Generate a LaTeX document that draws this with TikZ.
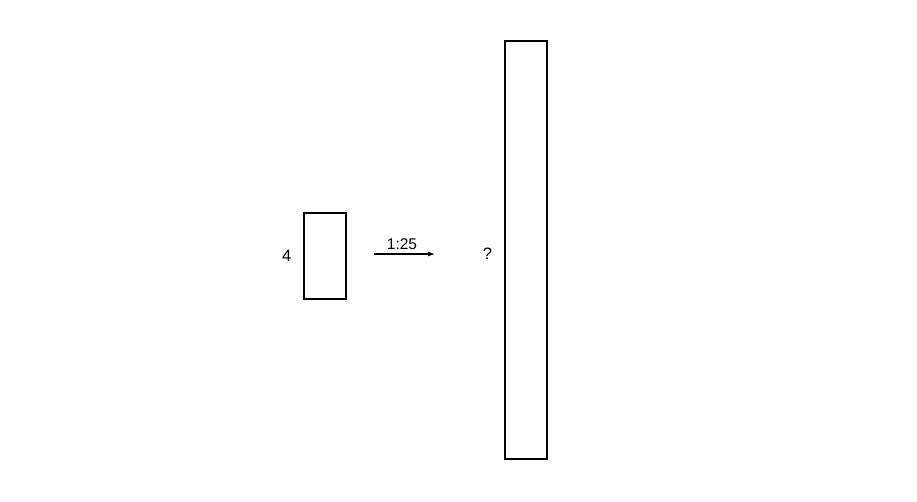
\documentclass[tikz,border=0pt]{standalone}
\usepackage{fontspec}
\setmainfont{Liberation Sans}
\usetikzlibrary{arrows.meta,positioning}
\tikzset{
    scale-box/.style = {draw=black, fill=white, line width=1.2pt, rectangle, minimum width=42pt, inner sep=0pt},
    side-label/.style = {inner sep=0pt, font=\fontsize{16.5}{19}\selectfont},
    ratio-arrow/.style = {-{Latex[length=7pt,width=5pt]}, line width=1.1pt},
    ratio-label/.style = {inner sep=0pt, font=\fontsize{15.5}{18}\selectfont},
}

\begin{document}
\begin{tikzpicture}[x=1pt, y=-1pt]
\useasboundingbox (0,0) rectangle (917,502);
\node [scale-box, minimum height=86pt] (model) at (325,256) {};
\node [side-label, left=12pt of model] (model-size) {4};
\node [scale-box, minimum height=418pt] (real) at (526,250) {};
\node [side-label] (real-size) at (487.5,253.5) {?};
\coordinate (arrow-start) at (374,254);
\coordinate (arrow-end) at (435,254);
\draw [ratio-arrow] (arrow-start) -- (arrow-end);
\node [ratio-label] (ratio) at (402,244) {1:25};
\end{tikzpicture}
\end{document}
